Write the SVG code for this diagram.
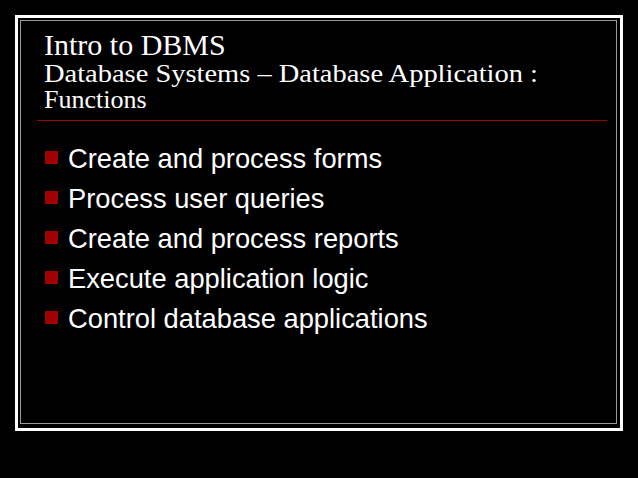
<svg xmlns="http://www.w3.org/2000/svg" width="638" height="478" viewBox="0 0 638 478">
<style>
.t{font-family:"Liberation Serif",serif;fill:#fff}
.b{font-family:"Liberation Sans",Arial,sans-serif;font-size:27.3px;fill:#fff}
.sq{fill:#a00000}
</style>
<rect width="638" height="478" fill="#000"/>
<rect x="16.5" y="16.5" width="605" height="413" fill="none" stroke="#fff" stroke-width="3"/>
<rect x="20.5" y="20.5" width="596" height="403" fill="none" stroke="#999" stroke-width="1"/>
<g id="title">
<text class="t" x="44" y="55" font-size="30">Intro to DBMS</text>
<text class="t" x="44" y="82" font-size="26" textLength="494" lengthAdjust="spacingAndGlyphs">Database Systems – Database Application :</text>
<text class="t" x="44" y="108" font-size="26">Functions</text>
</g>
<line x1="37" y1="120.5" x2="607" y2="120.5" stroke="#a00000" stroke-width="1"/>
<g id="bullets">
<rect class="sq" x="45" y="151" width="13" height="13"/><text class="b" x="68" y="168">Create and process forms</text>
<rect class="sq" x="45" y="191" width="13" height="13"/><text class="b" x="68" y="208">Process user queries</text>
<rect class="sq" x="45" y="231" width="13" height="13"/><text class="b" x="68" y="248">Create and process reports</text>
<rect class="sq" x="45" y="271" width="13" height="13"/><text class="b" x="68" y="288">Execute application logic</text>
<rect class="sq" x="45" y="311" width="13" height="13"/><text class="b" x="68" y="328">Control database applications</text>
</g>
</svg>
